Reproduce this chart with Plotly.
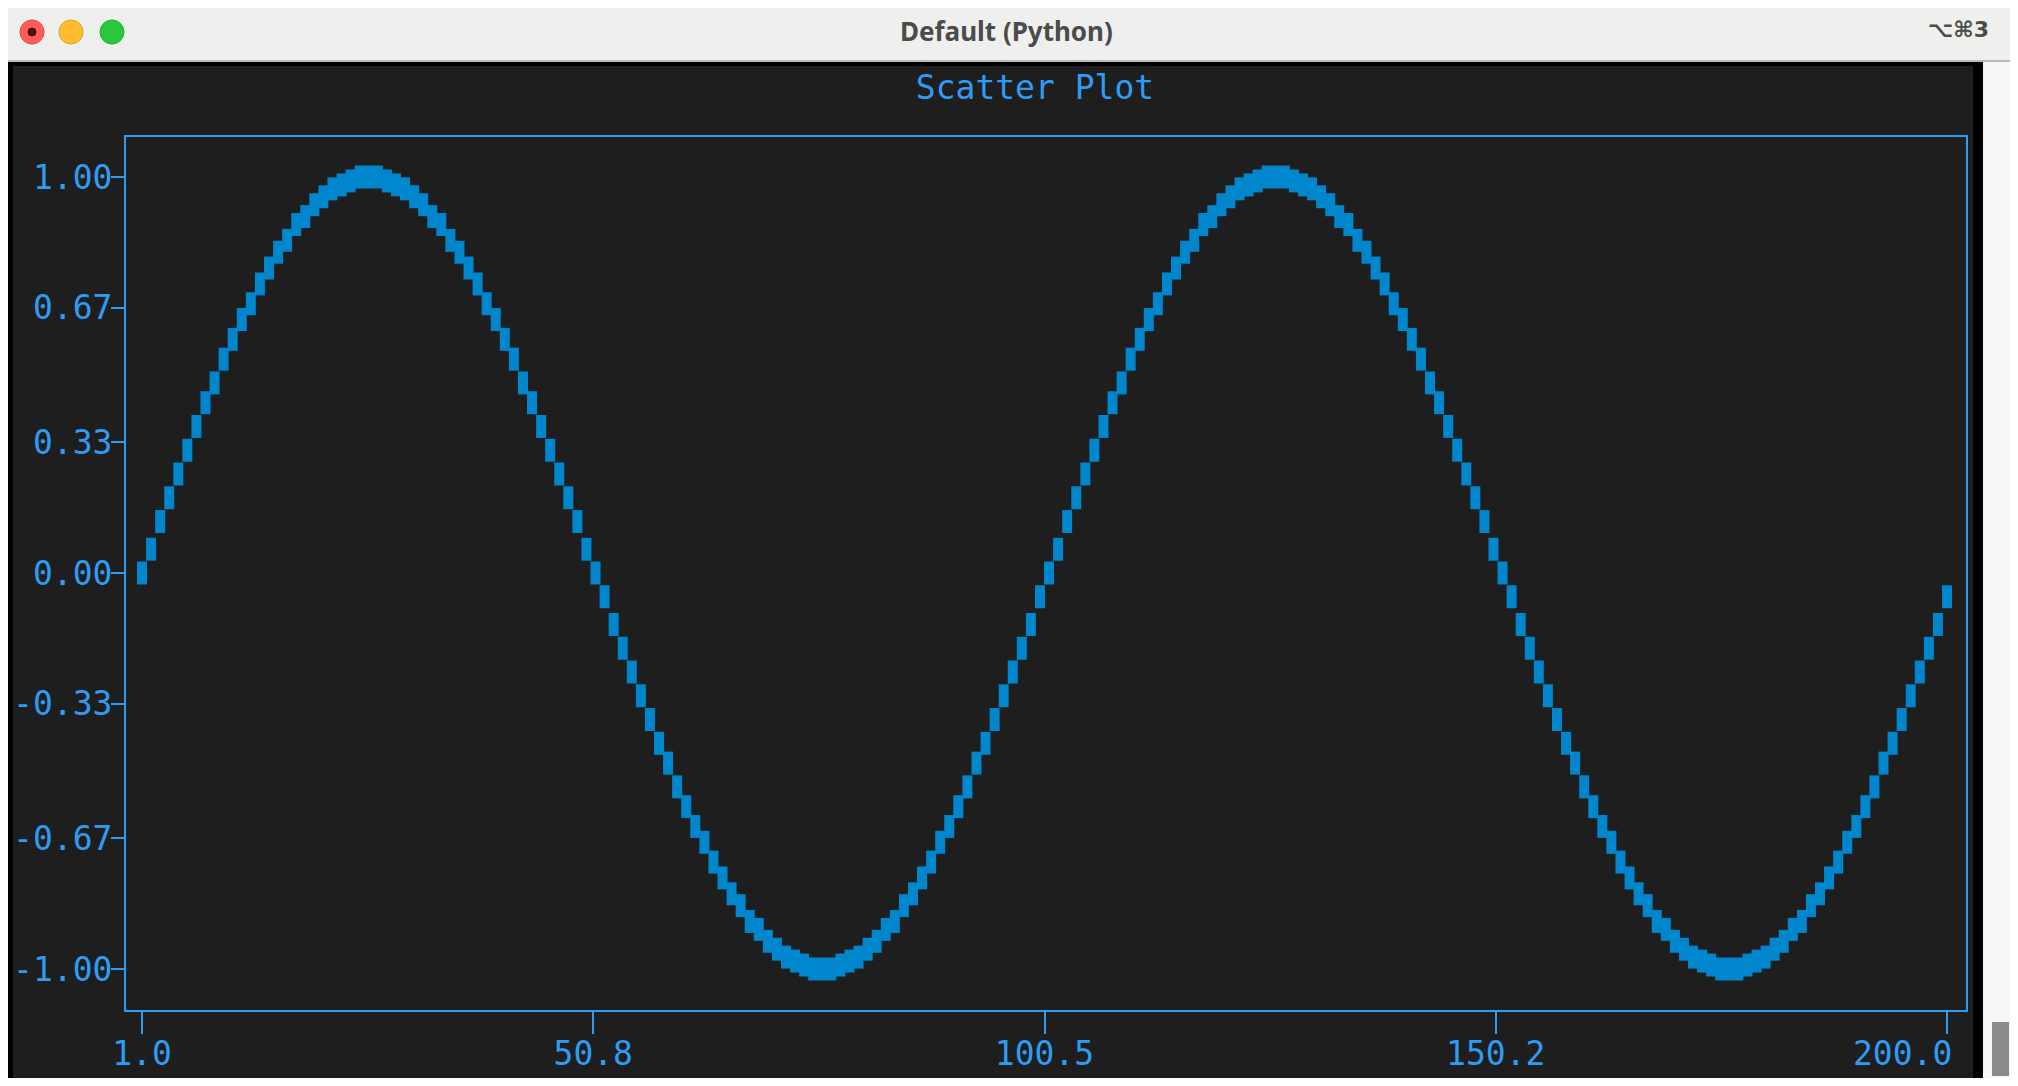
import plotly.graph_objects as go

# data (two sine periods over 200 points)
x_values = list(range(1, 201))
y_values = [
    0.00, 0.06, 0.13, 0.19, 0.25, 0.31, 0.37, 0.43, 0.48, 0.54,
    0.59, 0.64, 0.68, 0.73, 0.77, 0.81, 0.84, 0.88, 0.90, 0.93,
    0.95, 0.97, 0.98, 0.99, 1.00, 1.00, 1.00, 0.99, 0.98, 0.97,
    0.95, 0.93, 0.90, 0.88, 0.84, 0.81, 0.77, 0.73, 0.68, 0.64,
    0.59, 0.54, 0.48, 0.43, 0.37, 0.31, 0.25, 0.19, 0.13, 0.06,
    0.00, -0.06, -0.13, -0.19, -0.25, -0.31, -0.37, -0.43, -0.48, -0.54,
    -0.59, -0.64, -0.68, -0.73, -0.77, -0.81, -0.84, -0.88, -0.90, -0.93,
    -0.95, -0.97, -0.98, -0.99, -1.00, -1.00, -1.00, -0.99, -0.98, -0.97,
    -0.95, -0.93, -0.90, -0.88, -0.84, -0.81, -0.77, -0.73, -0.68, -0.64,
    -0.59, -0.54, -0.48, -0.43, -0.37, -0.31, -0.25, -0.19, -0.13, -0.06,
    0.00, 0.06, 0.13, 0.19, 0.25, 0.31, 0.37, 0.43, 0.48, 0.54,
    0.59, 0.64, 0.68, 0.73, 0.77, 0.81, 0.84, 0.88, 0.90, 0.93,
    0.95, 0.97, 0.98, 0.99, 1.00, 1.00, 1.00, 0.99, 0.98, 0.97,
    0.95, 0.93, 0.90, 0.88, 0.84, 0.81, 0.77, 0.73, 0.68, 0.64,
    0.59, 0.54, 0.48, 0.43, 0.37, 0.31, 0.25, 0.19, 0.13, 0.06,
    0.00, -0.06, -0.13, -0.19, -0.25, -0.31, -0.37, -0.43, -0.48, -0.54,
    -0.59, -0.64, -0.68, -0.73, -0.77, -0.81, -0.84, -0.88, -0.90, -0.93,
    -0.95, -0.97, -0.98, -0.99, -1.00, -1.00, -1.00, -0.99, -0.98, -0.97,
    -0.95, -0.93, -0.90, -0.88, -0.84, -0.81, -0.77, -0.73, -0.68, -0.64,
    -0.59, -0.54, -0.48, -0.43, -0.37, -0.31, -0.25, -0.19, -0.13, -0.06,
]

x_tick_vals = [1.0, 50.75, 100.5, 150.25, 200.0]
x_tick_text = ["1.0", "50.8", "100.5", "150.2", "200.0"]
y_tick_vals = [-1.0, -0.67, -0.33, 0.0, 0.33, 0.67, 1.0]
y_tick_text = ["-1.00", "-0.67", "-0.33", "0.00", "0.33", "0.67", "1.00"]

window_title = "Default (Python)"
shortcut = "\u2325\u23183"
chart_title = "Scatter Plot"

# page body keeps an 8px margin, so the figure is a bit smaller than the window
OFF = 8
W, H = 2018 - 2 * OFF, 1086 - 2 * OFF
PL, PR, PT, PB = 126, 1966, 137, 1010   # plot frame, screenshot pixels
TXT = "#2f9cf4"
MARK = "#0086cd"
MONO = "DejaVu Sans Mono"


def px(x):
    return (x - PL) / (PR - PL)


def py(y):
    return (PB - y) / (PB - PT)


def rect(x0, y0, x1, y1, color):
    return dict(type="rect", xref="paper", yref="paper", layer="below",
                x0=px(x0), x1=px(x1), y0=py(y1), y1=py(y0),
                fillcolor=color, line=dict(width=0))


def circle(cx, cy, r, color, edge):
    return dict(type="circle", xref="paper", yref="paper", layer="below",
                x0=px(cx - r), x1=px(cx + r), y0=py(cy + r), y1=py(cy - r),
                fillcolor=color, line=dict(color=edge, width=1))


shapes = [
    rect(4, 4, 2013, 60, "#efefed"),
    rect(4, 60, 2013, 62, "#b9b9b9"),
    rect(13, 66, 1973, 1078, "#1e1e1e"),
    rect(1983, 62, 2013, 1082, "#f6f6f6"),
    rect(1992, 1022, 2009, 1076, "#8a8a8a"),
    circle(32, 32, 12, "#ff5f57", "#e2463f"),
    circle(32, 32, 4, "#5a0a06", "#5a0a06"),
    circle(71, 32, 12, "#febc2e", "#dea123"),
    circle(112, 32, 12, "#28c840", "#1ead2e"),
]

fig = go.Figure(go.Scatter(
    x=x_values, y=y_values, mode="markers",
    marker=dict(symbol="line-ns", size=16.4, color=MARK,
                line=dict(color=MARK, width=10)),
    hoverinfo="x+y",
))

axis_font = dict(family=MONO, size=33, color=TXT)

# the terminal pushes the last x label left so it stays inside the window:
# draw it as an annotation tied to the x axis instead of a tick label
last_label = dict(text=x_tick_text[-1], xref="x", yref="paper",
                  x=x_tick_vals[-1], y=py(1053), xshift=7,
                  showarrow=False, xanchor="right", yanchor="middle",
                  font=axis_font)

fig.update_layout(
    width=W, height=H,
    margin=dict(l=PL - OFF, r=(2018 - OFF) - PR, t=PT - OFF, b=(1086 - OFF) - PB),
    paper_bgcolor="#000000",
    plot_bgcolor="rgba(0,0,0,0)",
    showlegend=False,
    shapes=shapes,
    title=dict(text=chart_title, x=(1035 - OFF) / W, xanchor="center",
               y=1 - (87 - OFF) / H, yanchor="middle",
               font=dict(family=MONO, size=33, color=TXT)),
    xaxis=dict(range=[-0.764, 202.095], showgrid=False, zeroline=False,
               automargin=False, ticklabelstandoff=-9,
               showline=True, mirror=True, linecolor=TXT, linewidth=2,
               ticks="outside", ticklen=22, tickwidth=2, tickcolor=TXT,
               tickvals=x_tick_vals, ticktext=x_tick_text[:-1] + [""],
               tickfont=axis_font),
    yaxis=dict(range=[-1.1035, 1.101], showgrid=False, zeroline=False,
               automargin=False, ticklabelstandoff=-8,
               showline=True, mirror=True, linecolor=TXT, linewidth=2,
               ticks="outside", ticklen=13, tickwidth=2, tickcolor=TXT,
               tickvals=y_tick_vals, ticktext=y_tick_text, tickfont=axis_font),
    annotations=[
        last_label,
        dict(text=window_title, xref="paper", yref="paper", x=px(1006), y=py(31),
             showarrow=False, xanchor="center", yanchor="middle",
             font=dict(family="Noto Sans", size=26, color="#4b4b4b", weight="bold")),
        dict(text=shortcut, xref="paper", yref="paper", x=px(1991), y=py(30),
             showarrow=False, xanchor="right", yanchor="middle",
             font=dict(family="DejaVu Sans", size=22, color="#4b4b4b", weight="bold")),
    ],
)

fig.write_html("out.html")
